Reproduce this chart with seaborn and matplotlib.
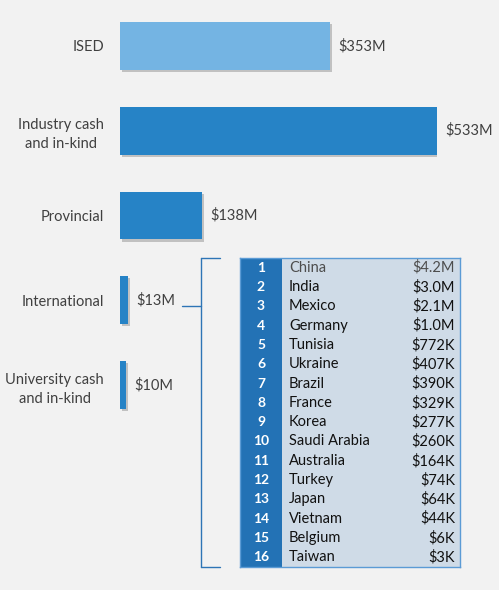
import matplotlib
matplotlib.use("Agg")
import matplotlib.pyplot as plt
import matplotlib.patheffects as pe
from matplotlib.lines import Line2D
import seaborn as sns
import pandas as pd

# ---- data ----
categories = ["ISED", "Industry cash\nand in-kind", "Provincial", "International",
              "University cash\nand in-kind"]
values = [353, 533, 138, 13, 10]
value_labels = ["$353M", "$533M", "$138M", "$13M", "$10M"]
bar_colors = ["#74b4e3", "#2683c6", "#2683c6", "#2683c6", "#2683c6"]

ranks = list(range(1, 17))
countries = ["China", "India", "Mexico", "Germany", "Tunisia", "Ukraine", "Brazil",
             "France", "Korea", "Saudi Arabia", "Australia", "Turkey", "Japan",
             "Vietnam", "Belgium", "Taiwan"]
country_values = ["$4.2M", "$3.0M", "$2.1M", "$1.0M", "$772K", "$407K", "$390K",
                  "$329K", "$277K", "$260K", "$164K", "$74K", "$64K", "$44K",
                  "$6K", "$3K"]

BG = "#f2f2f2"
W, H = 499, 590

sns.set_theme(style="white", rc={"figure.facecolor": BG, "axes.facecolor": BG,
                                 "savefig.facecolor": BG})
plt.rcParams["font.family"] = ["Lato", "DejaVu Sans"]

fig = plt.figure(figsize=(W / 100, H / 100), dpi=100)


def px_axes(x0, y0, x1, y1):
    return fig.add_axes([x0 / W, 1 - y1 / H, (x1 - x0) / W, (y1 - y0) / H])


# ---- main bar chart ----
ax = px_axes(120, 3.5, 437, 427.5)
df = pd.DataFrame({"cat": categories, "val": values})
sns.barplot(data=df, x="val", y="cat", hue="cat", palette=bar_colors, legend=False,
            saturation=1, width=0.565, linewidth=0, ax=ax)
ax.set_xlim(0, 533)
ax.set_ylim(4.5, -0.5)
for s in ax.spines.values():
    s.set_visible(False)
ax.set_xticks([])
ax.set_xlabel("")
ax.set_ylabel("")
ax.tick_params(axis="y", length=0, pad=11.5, labelsize=10.5, labelcolor="#404040")
for lbl in ax.get_yticklabels():
    lbl.set_multialignment("center")
    lbl.set_linespacing(1.45)

for p in ax.patches:
    p.set_edgecolor("none")
    p.set_path_effects([pe.SimplePatchShadow(offset=(1.5, -1.5), alpha=0.2,
                                             shadow_rgbFace="#000000"), pe.Normal()])

for i, cont in enumerate(ax.containers):
    ax.bar_label(cont, labels=[value_labels[i]], padding=6, fontsize=10.5,
                 color="#404040")

# ---- bracket ----
bc = "#2e75b6"
for (xa, ya, xb, yb) in [(201, 258, 201, 567), (201, 258, 220, 258),
                         (201, 567, 220, 567), (182, 306, 201, 306)]:
    fig.add_artist(Line2D([xa / W, xb / W], [1 - ya / H, 1 - yb / H], color=bc, lw=1))

# ---- table ----
tx = px_axes(240, 258, 460, 567)
n = len(countries)
tx.set_xlim(0, 220)
tx.set_ylim(n, 0)
tx.axvspan(0, 42, color="#2372b5", lw=0)
tx.axvspan(42, 220, color="#cfdbe7", lw=0)
tx.set_xticks([])
tx.set_yticks([])
for s in tx.spines.values():
    s.set_color("#5b9bd5")
    s.set_linewidth(1)
for i in range(n):
    y = i + 0.5
    col = "#4d4d4d" if i == 0 else "#111111"
    tx.text(21, y, str(ranks[i]), ha="center", va="center", color="white",
            fontsize=10, fontweight="bold")
    tx.text(49, y, countries[i], ha="left", va="center", color=col, fontsize=10.5)
    tx.text(215, y, country_values[i], ha="right", va="center", color=col, fontsize=10.5)

fig.savefig("out.png", dpi=100)
